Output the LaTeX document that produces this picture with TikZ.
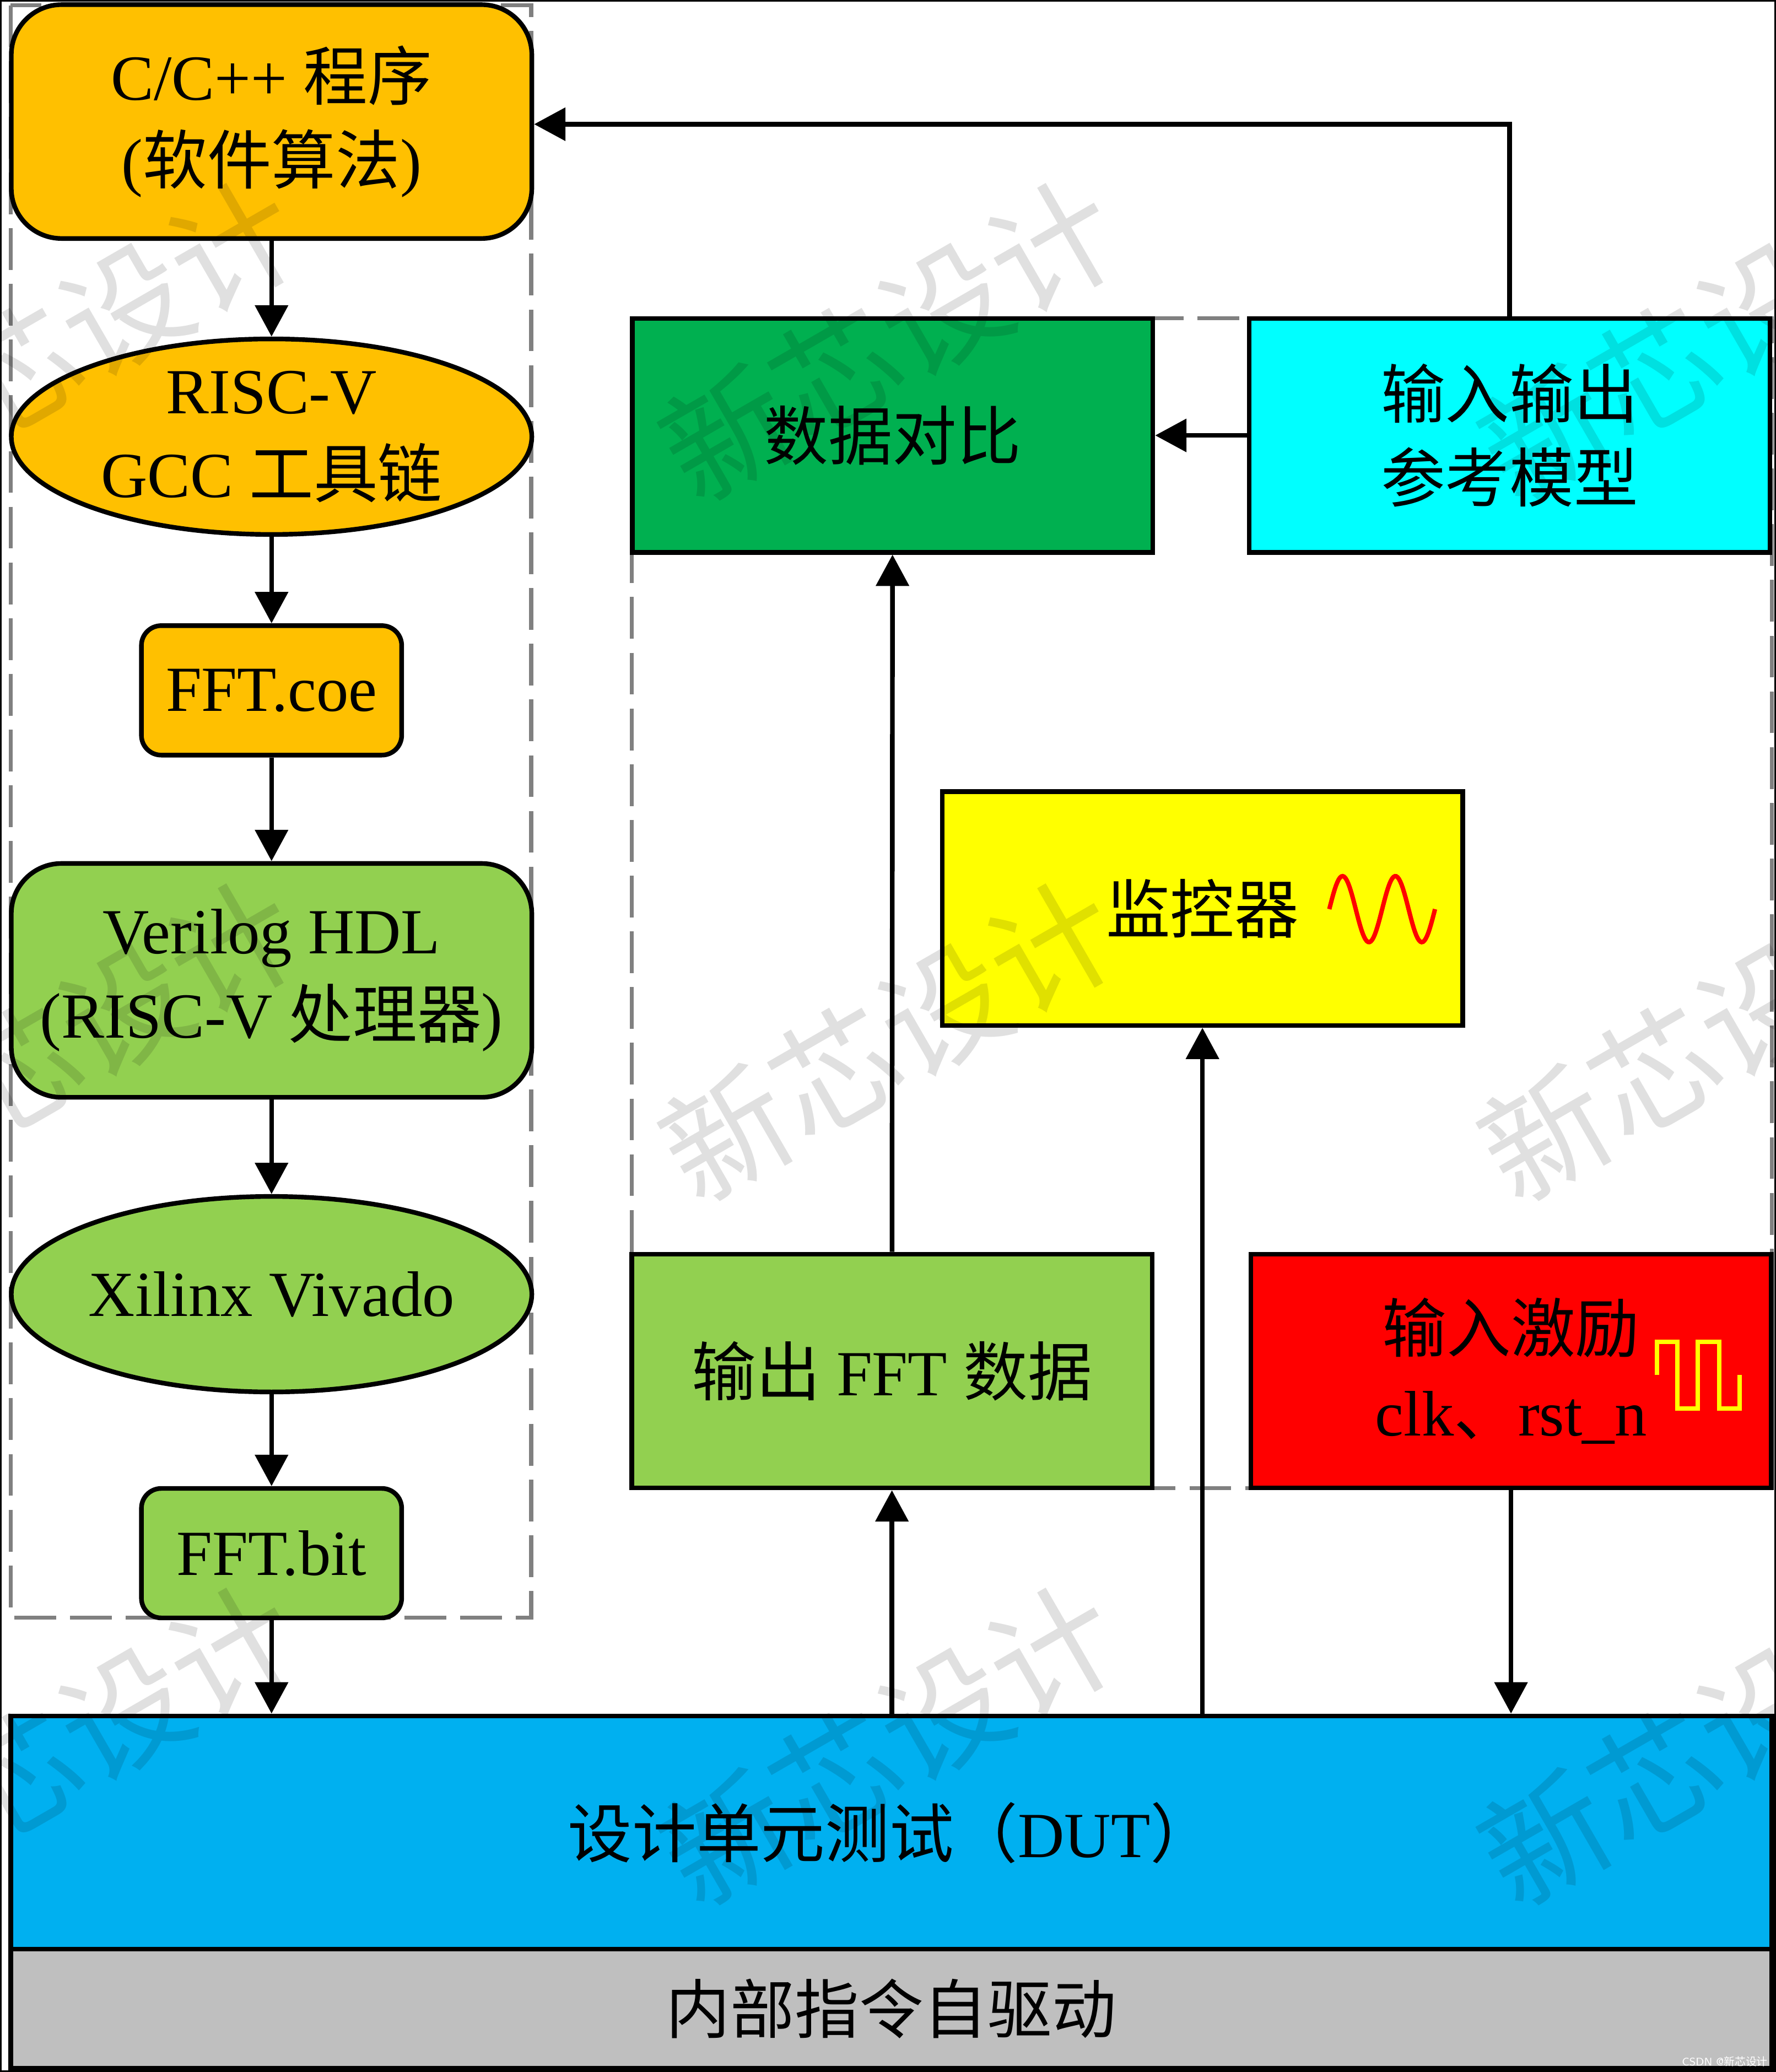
\documentclass[tikz,border=0pt]{standalone}
\usepackage{fontspec}
\setmainfont{Liberation Serif}
\newfontfamily\cjk{Noto Sans CJK SC}
\usetikzlibrary{positioning, arrows.meta, shapes.geometric}
\newcommand{\cn}[1]{{\cjk #1}}
\definecolor{softorange}{HTML}{FFC000}
\definecolor{softgreen}{HTML}{92D050}
\definecolor{deepgreen}{HTML}{00B050}
\definecolor{dutblue}{HTML}{00B0F0}
\definecolor{drivegray}{HTML}{BFBFBF}
\definecolor{refcyan}{HTML}{00FFFF}
\definecolor{monyellow}{HTML}{FFFF00}
\definecolor{stimred}{HTML}{FF0000}
\tikzset{
  block/.style={
    draw,
    rectangle,
    line width=2pt,
    inner sep=0pt,
    minimum width=7.88cm,
    minimum height=3.54cm,
    align=center,
    font=\fontsize{27.7}{36.2}\selectfont
  },
  softblock/.style={
    block,
    rounded corners=0.76cm
  },
  fileblock/.style={
    block,
    rounded corners=0.3cm,
    minimum width=3.94cm,
    minimum height=1.96cm
  },
  toolblock/.style={
    block,
    ellipse,
    inner ysep=-12pt,
    minimum height=2.96cm
  },
  flow/.style={
    line width=2pt,
    -{Triangle[length=13.5pt,width=14pt]}
  },
  dashframe/.style={
    draw=gray,
    line width=1.7pt,
    dash pattern=on 18pt off 6pt
  },
  stamp/.style={
    rotate=30,
    inner sep=0pt,
    text=black,
    text opacity=0.12,
    font=\cjk\fontsize{54}{54}\selectfont
  }
}

\begin{document}
\begin{tikzpicture}[x=0.02cm, y=-0.02cm]
    \useasboundingbox (0,0) rectangle (1344,1568);
    \fill[white] (0,0) rectangle (1344,1568);
    \draw[line width=0.8pt] (0.5,0.5) rectangle (1343.5,1567.5);

    % dashed groups
    \draw[dashframe] (8,4) rectangle (402,1224);
    \draw[dashframe] (478,241) rectangle (1341,1126);

    % left column
    \node[softblock, fill=softorange] (cprog) at (205.5,92) {C/C++ \cn{程序}\\(\cn{软件算法})};
    \node[toolblock, fill=softorange, below=1.45cm of cprog] (gcc) {RISC-V\\GCC \cn{工具链}};
    \node[fileblock, fill=softorange, below=1.31cm of gcc] (coe) {FFT.coe};
    \node[softblock, fill=softgreen, below=1.57cm of coe] (verilog) {Verilog HDL\\(RISC-V \cn{处理器})};
    \node[toolblock, fill=softgreen, below=1.43cm of verilog] (vivado) {Xilinx Vivado};
    \node[fileblock, fill=softgreen, below=1.39cm of vivado] (bit) {FFT.bit};

    % bottom bars
    \node[block, fill=dutblue, minimum width=26.66cm] (dut) at (674.5,1387) {\cn{设计单元测试（}DUT\cn{）}};
    \node[block, fill=drivegray, minimum width=26.66cm, minimum height=1.8cm] (drive) at (674.5,1520) {\cn{内部指令自驱动}};

    % right side
    \node[block, fill=deepgreen] (compare) at (675.5,329.5) {\cn{数据对比}};
    \node[block, fill=refcyan, right=1.39cm of compare] (refmodel) {\cn{输入输出}\\\cn{参考模型}};
    \node[block, fill=monyellow] (monitor) at (910,687.5) {\cn{监控器}};
    \node[block, fill=softgreen] (fftout) at (675,1037.5) {\cn{输出} FFT \cn{数据}};
    \node[block, fill=stimred] (stimulus) at (1143.5,1037.5) {\cn{输入激励}\\clk\cn{、}rst\_n};

    % little waves
    \draw[stimred, line width=1.9pt] plot[domain=0:720, samples=80] ({1006+\x/9},{688-25*sin(\x)});
    \draw[monyellow, line width=1.9pt] (1254,1040.6) -- (1254,1015.6) -- (1269.6,1015.6) -- (1269.6,1066)
        -- (1285,1066) -- (1285,1015.6) -- (1301,1015.6) -- (1301,1066) -- (1316.6,1066) -- (1316.6,1040.6);

    \draw[flow] (cprog) -- (gcc);
    \draw[flow] (gcc) -- (coe);
    \draw[flow] (coe) -- (verilog);
    \draw[flow] (verilog) -- (vivado);
    \draw[flow] (vivado) -- (bit);
    \draw[flow] (bit) -- (bit |- dut.north);
    \draw[flow] (refmodel.north) |- (cprog.east |- 0,94);
    \draw[flow] (refmodel) -- (compare);
    \draw[flow] (fftout) -- (compare);
    \draw[flow] (dut.north -| fftout) -- (fftout);
    \draw[flow] (dut.north -| monitor) -- (monitor);
    \draw[flow] (stimulus) -- (stimulus |- dut.north);

    % watermark
    \foreach \wx in {53,673,1293}
      \foreach \wy in {257,787,1320}
        \node[stamp] (mark\wx\wy) at (\wx,\wy) {新芯设计};
    \node[anchor=east, inner sep=0pt, text=white, font=\sffamily\fontsize{4.7}{5}\selectfont] (csdn) at (1338,1560) {CSDN @\cn{新芯设计}};
\end{tikzpicture}
\end{document}
